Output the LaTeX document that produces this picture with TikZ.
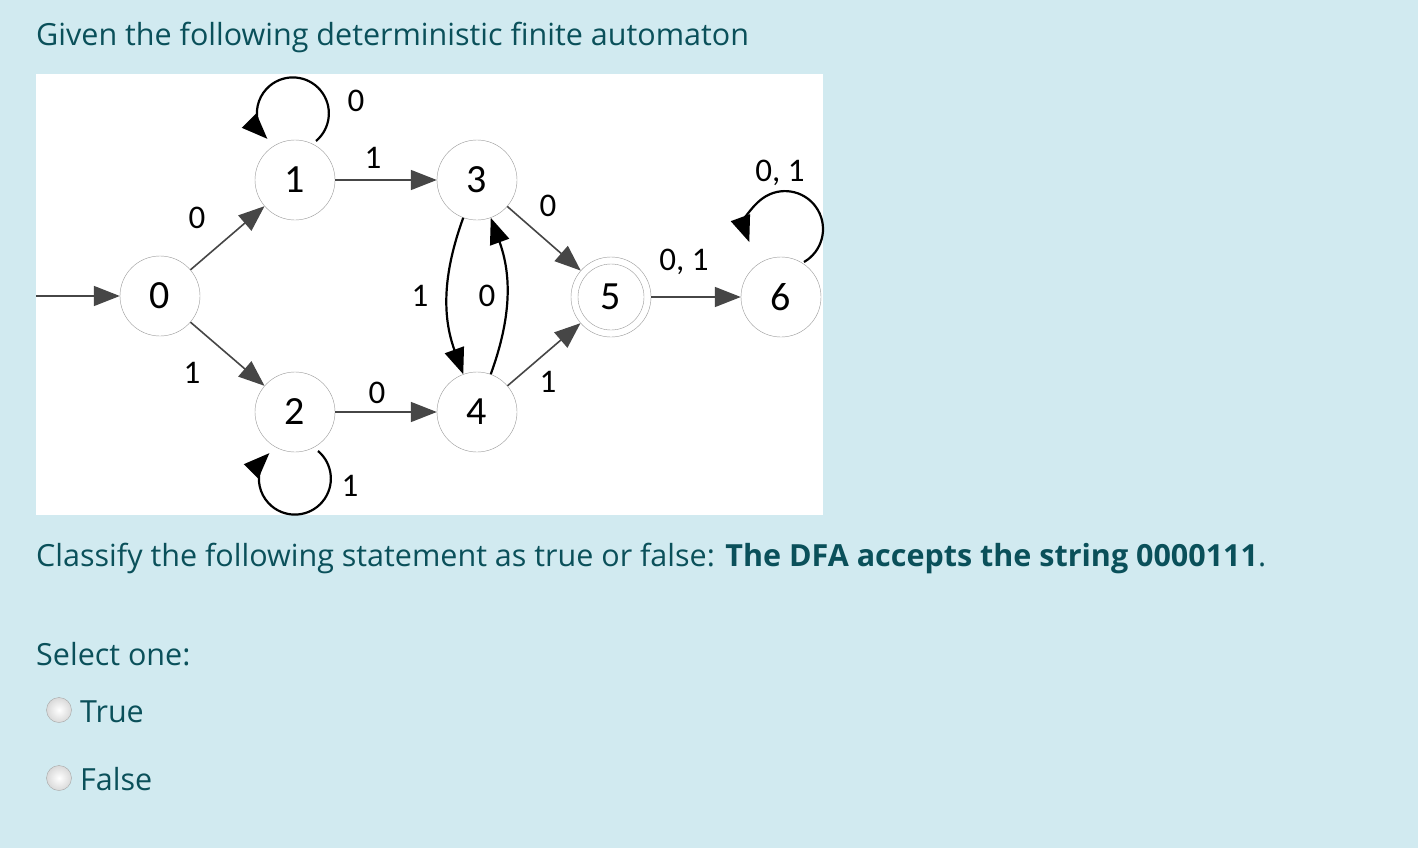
\documentclass[tikz,border=0pt]{standalone}
\usepackage{fontspec}
\setmainfont{Open Sans}
\newfontfamily\diafont{Carlito}
\usetikzlibrary{arrows.meta}
\definecolor{bg}{RGB}{209,234,240}
\definecolor{tx}{RGB}{10,80,90}
\definecolor{eg}{RGB}{70,70,70}
\begin{document}
\begin{tikzpicture}[x=1pt,y=-1pt,
  st/.style={circle,draw=gray!80,fill=white,minimum size=80pt,inner sep=0pt,font=\diafont\fontsize{40}{40}\selectfont},
  tr/.style={draw=eg,line width=1.6pt,-{Triangle[length=26pt,width=20pt]}},
  lp/.style={draw=black,line width=2.2pt,-{Triangle[length=26pt,width=20pt]}},
  lb/.style={font=\diafont\fontsize{33}{33}\selectfont,inner sep=1pt},
  para/.style={anchor=west,text=tx,font=\fontsize{30.5}{30.5}\selectfont,inner sep=0pt},
  radio/.style={circle,draw=gray!70,inner sep=0pt,minimum size=25pt,shade,inner color=white,outer color=gray!30}]
\fill[bg] (0,0) rectangle (1418,848);
\fill[white] (36,74) rectangle (823,515);
\node[para] (title) at (36,37) {Given the following deterministic finite automaton};
\node[st] (n0) at (160,296) {0};
\node[st] (n1) at (295,180) {1};
\node[st] (n2) at (295,412) {2};
\node[st] (n3) at (477,180) {3};
\node[st] (n4) at (477,412) {4};
\node[st] (n5) at (611,297) {5};
\node[circle,draw=gray!80,minimum size=66pt] (n5in) at (n5) {};
\node[st] (n6) at (781,297) {6};
\coordinate (start) at (36,296);
\draw[tr] (start) -- (n0);
\draw[tr] (n0) -- (n1);
\draw[tr] (n0) -- (n2);
\draw[tr] (n1) -- (n3);
\draw[tr] (n2) -- (n4);
\draw[tr] (n3) -- (n5);
\draw[tr] (n4) -- (n5);
\draw[tr] (n5) -- (n6);
\draw[lp] (n3) to[bend right=20] (n4);
\draw[lp] (n4) to[bend right=20] (n3);
\draw[lp] (316,141) arc[start angle=50,end angle=-225,radius=36];
\draw[lp] (318,451) arc[start angle=-50,end angle=225,radius=36];
\draw[lp] (804,262) arc[start angle=60,end angle=-200,radius=38];
\node[lb] (l01) at (197,218) {0};
\node[lb] (l02) at (192,373) {1};
\node[lb] (l13) at (373,158) {1};
\node[lb] (l24) at (377,393) {0};
\node[lb] (l34) at (420,296) {1};
\node[lb] (l43) at (487,296) {0};
\node[lb] (l35) at (548,206) {0};
\node[lb] (l45) at (548,382) {1};
\node[lb] (l56) at (684,262) {0, 1};
\node[lb] (l66) at (780,173) {0, 1};
\node[lb] (l11) at (356,101) {0};
\node[lb] (l22) at (350,486) {1};
\node[para] (q) at (36,558) {Classify the following statement as true or false: \textbf{The DFA accepts the string 0000111}.};
\node[para] (sel) at (36,654) {Select one:};
\node[radio] (r1) at (59,710) {};
\node[radio] (r2) at (59,778) {};
\node[para] (t) at (80,712) {True};
\node[para] (f) at (80,779) {False};
\end{tikzpicture}
\end{document}
